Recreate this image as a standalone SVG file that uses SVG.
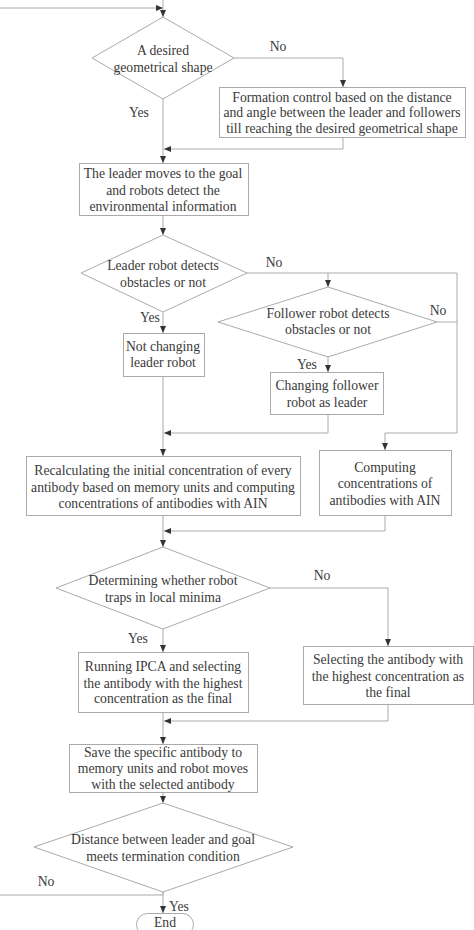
<svg xmlns="http://www.w3.org/2000/svg" width="474" height="930" viewBox="0 0 474 930">
<defs>
<marker id="ah" markerWidth="7" markerHeight="6" refX="7" refY="3" orient="auto" markerUnits="userSpaceOnUse">
<path d="M0,0 L7,3 L0,6 Z" fill="#333"/>
</marker>
<style>
.n{fill:#fff;stroke:#aaa;stroke-width:1}
.c{fill:none;stroke:#aaa;stroke-width:1}
.a{marker-end:url(#ah)}
text{font-family:"Liberation Serif","Times New Roman",serif;font-size:13.7px;fill:#3a3a3a;text-anchor:middle}
.l{text-anchor:start}
</style>
</defs>
<rect width="474" height="930" fill="#fff"/>
<g id="connectors">
<path class="c a" d="M0,8 H163"/>
<path class="c a" d="M163,0 V17"/>
<path class="c a" d="M234,58 H343 V87"/>
<path class="c a" d="M163,99 V163"/>
<path class="c a" d="M343,137 V149 H164"/>
<path class="c a" d="M163,215 V235"/>
<path class="c a" d="M247,273 H328 V287"/>
<path class="c" d="M328,273 H457 V433 H385"/>
<path class="c a" d="M385,433 V450"/>
<path class="c" d="M437,322 H457"/>
<path class="c a" d="M163,312 V333"/>
<path class="c a" d="M328,357 V372"/>
<path class="c a" d="M163,376 V456"/>
<path class="c a" d="M328,414 V433 H164"/>
<path class="c a" d="M163,515 V547"/>
<path class="c a" d="M385,515 V531 H164"/>
<path class="c a" d="M270,588 H388 V646"/>
<path class="c a" d="M163,629 V652"/>
<path class="c a" d="M163,712 V744"/>
<path class="c a" d="M388,704 V721 H164"/>
<path class="c a" d="M163,792 V803"/>
<path class="c" d="M163,892 V895 H0"/>
<path class="c a" d="M163,892 V913"/>
</g>
<g id="labels">
<text x="278" y="51">No</text>
<text x="139" y="117">Yes</text>
<text x="274" y="267">No</text>
<text x="150" y="322">Yes</text>
<text x="438" y="315">No</text>
<text x="307" y="369">Yes</text>
<text x="322" y="580">No</text>
<text x="138" y="643">Yes</text>
<text x="46" y="886">No</text>
<text class="l" x="169" y="911">Yes</text>
</g>
<g id="d1">
<polygon class="n" points="163,17 234,58 163,99 92,58"/>
<text x="163" y="55">A desired</text>
<text x="163" y="72">geometrical shape</text>
</g>
<g id="b_formation">
<rect class="n" x="219.5" y="87.5" width="246" height="50"/>
<text x="342" y="102">Formation control based on the distance</text>
<text x="342" y="117">and angle between the leader and followers</text>
<text x="342" y="133">till reaching the desired geometrical shape</text>
</g>
<g id="b_leader_moves">
<rect class="n" x="79.5" y="163.5" width="169" height="52"/>
<text x="163" y="178">The leader moves to the goal</text>
<text x="163" y="195">and robots detect the</text>
<text x="163" y="211">environmental information</text>
</g>
<g id="d2">
<polygon class="n" points="163,235 247,273 163,312 81,273"/>
<text x="163" y="270">Leader robot detects</text>
<text x="163" y="287">obstacles or not</text>
</g>
<g id="d3">
<polygon class="n" points="328,287 437,322 328,357 218,322"/>
<text x="328" y="318">Follower robot detects</text>
<text x="328" y="334">obstacles or not</text>
</g>
<g id="b_not_changing">
<rect class="n" x="123.5" y="333.5" width="81" height="43"/>
<text x="163" y="351">Not changing</text>
<text x="163" y="367">leader robot</text>
</g>
<g id="b_changing">
<rect class="n" x="270.5" y="372.5" width="113" height="42"/>
<text x="327" y="390">Changing follower</text>
<text x="327" y="407">robot as leader</text>
</g>
<g id="b_recalc">
<rect class="n" x="26.5" y="456.5" width="274" height="59"/>
<text x="163" y="475">Recalculating the initial concentration of every</text>
<text x="163" y="492">antibody based on memory units and computing</text>
<text x="163" y="508">concentrations of antibodies with AIN</text>
</g>
<g id="b_computing">
<rect class="n" x="319.5" y="450.5" width="132" height="65"/>
<text x="385" y="472">Computing</text>
<text x="385" y="488">concentrations of</text>
<text x="385" y="505">antibodies with AIN</text>
</g>
<g id="d4">
<polygon class="n" points="163,547 270,588 163,629 56,588"/>
<text x="163" y="585">Determining whether robot</text>
<text x="163" y="602">traps in local minima</text>
</g>
<g id="b_ipca">
<rect class="n" x="78.5" y="652.5" width="170" height="60"/>
<text x="163" y="671">Running IPCA and selecting</text>
<text x="163" y="688">the antibody with the highest</text>
<text x="163" y="703">concentration as the final</text>
</g>
<g id="b_selecting">
<rect class="n" x="303.5" y="646.5" width="170" height="58"/>
<text x="388" y="664">Selecting the antibody with</text>
<text x="388" y="681">the highest concentration as</text>
<text x="388" y="697">the final</text>
</g>
<g id="b_save">
<rect class="n" x="69.5" y="744.5" width="188" height="48"/>
<text x="163" y="757">Save the specific antibody to</text>
<text x="163" y="773">memory units and robot moves</text>
<text x="163" y="789">with the selected antibody</text>
</g>
<g id="d5">
<polygon class="n" points="163,803 293,847 163,892 34,847"/>
<text x="163" y="844">Distance between leader and goal</text>
<text x="163" y="861">meets termination condition</text>
</g>
<g id="end">
<rect class="n" x="136.5" y="913.5" width="57" height="22" rx="11"/>
<text x="165" y="927">End</text>
</g>
</svg>
